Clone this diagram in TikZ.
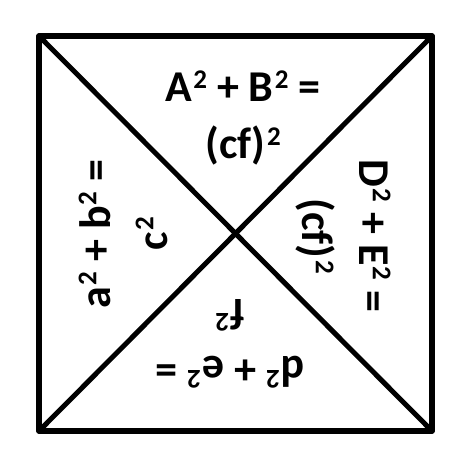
\documentclass[tikz,border=0pt]{standalone}
\usepackage{fontspec}
\setmainfont{Carlito}
\newcommand{\sqd}{\kern0.03em\raisebox{0.31em}{\fontsize{27pt}{27pt}\selectfont 2}}
\tikzset{
  frame/.style={line width=5.5pt, line join=round, line cap=round},
  diag/.style={line width=5pt, line cap=round},
  lbl/.style={font=\bfseries\fontsize{44pt}{57pt}\selectfont, align=center, inner sep=0pt}
}
\begin{document}
\begin{tikzpicture}[x=1pt,y=-1pt]
\useasboundingbox (0,0) rectangle (474,474);
\coordinate (tl) at (39,36);
\coordinate (tr) at (432,36);
\coordinate (br) at (432,431);
\coordinate (bl) at (39,431);
\draw[diag] (tl) -- (br);
\draw[diag] (tr) -- (bl);
\draw[frame] (tl) -- (tr) -- (br) -- (bl) -- cycle;
\node[lbl] (top) at (243,118) {A\sqd{} + B\sqd{} =\\(cf)\sqd};
\node[lbl, rotate=-90] (right) at (343,236) {D\sqd{} + E\sqd{} =\\(cf)\sqd};
\node[lbl, rotate=180] (bottom) at (230,344) {d\sqd{} + e\sqd{} =\\f\sqd};
\node[lbl, rotate=90] (left) at (123,234) {a\sqd{} + b\sqd{} =\\c\sqd};
\end{tikzpicture}
\end{document}
